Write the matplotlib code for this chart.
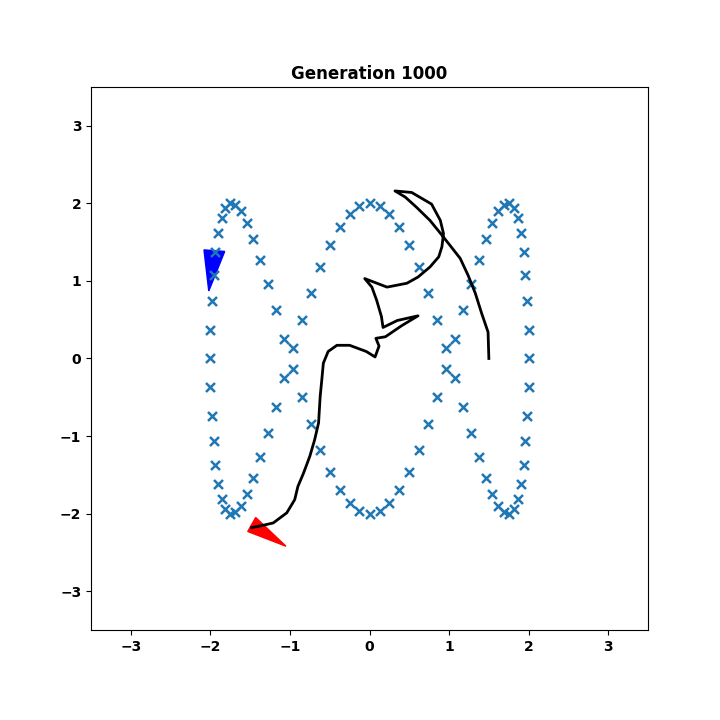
import matplotlib
matplotlib.use("Agg")
import matplotlib.pyplot as plt

plt.rcParams['font.weight'] = 'bold'

# target points (blue crosses)
target_x = [0.00, 0.13, 0.25, 0.37, 0.50, 0.62, 0.74, 0.85, 0.96, 1.07,
            1.18, 1.27, 1.37, 1.46, 1.54, 1.62, 1.69, 1.75, 1.81, 1.86,
            1.90, 1.94, 1.96, 1.98, 2.00, 2.00, 2.00, 1.98, 1.96, 1.94,
            1.90, 1.86, 1.81, 1.75, 1.69, 1.62, 1.54, 1.46, 1.37, 1.27,
            1.18, 1.07, 0.96, 0.85, 0.74, 0.62, 0.50, 0.37, 0.25, 0.13,
            0.00, -0.13, -0.25, -0.37, -0.50, -0.62, -0.74, -0.85, -0.96, -1.07,
            -1.18, -1.27, -1.37, -1.46, -1.54, -1.62, -1.69, -1.75, -1.81, -1.86,
            -1.90, -1.94, -1.96, -1.98, -2.00, -2.00, -2.00, -1.98, -1.96, -1.94,
            -1.90, -1.86, -1.81, -1.75, -1.69, -1.62, -1.54, -1.46, -1.37, -1.27,
            -1.18, -1.07, -0.96, -0.85, -0.74, -0.62, -0.50, -0.37, -0.25, -0.13]
target_y = [2.00, 1.96, 1.86, 1.69, 1.46, 1.18, 0.85, 0.50, 0.13, -0.25,
            -0.62, -0.96, -1.27, -1.54, -1.75, -1.90, -1.98, -2.00, -1.94, -1.81,
            -1.62, -1.37, -1.07, -0.74, -0.37, 0.00, 0.37, 0.74, 1.07, 1.37,
            1.62, 1.81, 1.94, 2.00, 1.98, 1.90, 1.75, 1.54, 1.27, 0.96,
            0.62, 0.25, -0.13, -0.50, -0.85, -1.18, -1.46, -1.69, -1.86, -1.96,
            -2.00, -1.96, -1.86, -1.69, -1.46, -1.18, -0.85, -0.50, -0.13, 0.25,
            0.62, 0.96, 1.27, 1.54, 1.75, 1.90, 1.98, 2.00, 1.94, 1.81,
            1.62, 1.37, 1.07, 0.74, 0.37, 0.00, -0.37, -0.74, -1.07, -1.37,
            -1.62, -1.81, -1.94, -2.00, -1.98, -1.90, -1.75, -1.54, -1.27, -0.96,
            -0.62, -0.25, 0.13, 0.50, 0.85, 1.18, 1.46, 1.69, 1.86, 1.96]

# trajectory (black line)
path_x = [1.50, 1.49, 1.41, 1.33, 1.24, 1.14, 1.01, 0.91, 0.76, 0.59,
          0.45, 0.32, 0.53, 0.78, 0.89, 0.93, 0.91, 0.87, 0.76, 0.61,
          0.47, 0.22, -0.06, 0.03, 0.09, 0.15, 0.17, 0.35, 0.61, 0.40,
          0.20, 0.08, 0.12, 0.07, -0.04, -0.25, -0.41, -0.52, -0.58,
          -0.60, -0.62, -0.64, -0.69, -0.75, -0.83, -0.90, -0.94, -1.04, -1.21,
          -1.38, -1.48]
path_y = [0.00, 0.34, 0.58, 0.84, 1.07, 1.29, 1.46, 1.59, 1.78, 1.95,
          2.08, 2.16, 2.14, 1.99, 1.78, 1.61, 1.44, 1.31, 1.18, 1.05,
          0.97, 0.92, 1.03, 0.92, 0.75, 0.54, 0.40, 0.49, 0.55, 0.42,
          0.28, 0.26, 0.16, 0.02, 0.09, 0.17, 0.17, 0.09, -0.06,
          -0.28, -0.49, -0.83, -1.05, -1.26, -1.48, -1.65, -1.82, -1.99, -2.12,
          -2.16, -2.18]

# heading triangles
blue_tri_x = [-2.08, -1.82, -2.02]
blue_tri_y = [1.40, 1.38, 0.87]
red_tri_x = [-1.43, -1.53, -1.05]
red_tri_y = [-2.05, -2.23, -2.42]

fig = plt.figure(figsize=(7.2, 7.2), dpi=100)
ax = fig.add_axes([0.1264, 0.125, 0.7736, 0.7542])

ax.fill(blue_tri_x, blue_tri_y, color='blue', zorder=1)
ax.fill(red_tri_x, red_tri_y, color='red', zorder=1)
ax.scatter(target_x, target_y, marker='x', color='tab:blue', s=42, linewidths=1.8, zorder=2)
ax.plot(path_x, path_y, color='k', linewidth=2, zorder=3)

ax.set_xlim(-3.5, 3.5)
ax.set_ylim(-3.5, 3.5)
ax.set_xticks([-3, -2, -1, 0, 1, 2, 3])
ax.set_yticks([-3, -2, -1, 0, 1, 2, 3])
ax.set_title("Generation 1000", fontweight='bold')

fig.savefig("out.png", dpi=100)
